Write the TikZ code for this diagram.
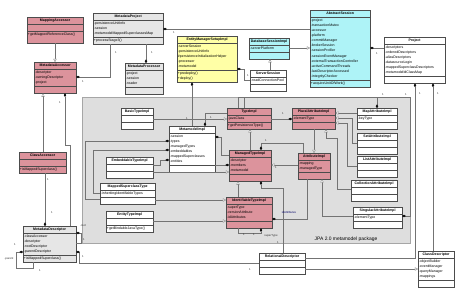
\documentclass[tikz,border=0pt]{standalone}
\usepackage{fontspec}
\setmainfont{Liberation Sans}
\usepackage{tikz}
\usetikzlibrary{shapes.multipart, arrows.meta, calc}
\usepackage{xcolor}
\definecolor{clspink}{HTML}{DC939C}
\definecolor{clscyan}{HTML}{AEF3F7}
\definecolor{clsyellow}{HTML}{FFFFA6}
\definecolor{clsgray}{HTML}{E6E6E6}
\definecolor{pkgfill}{HTML}{DEDEDE}

\newcommand{\clfont}{\fontsize{5}{7.2}\selectfont}
\newcommand{\hdr}[1]{\centering\strut\textbf{#1}\par}
\newcommand{\mbr}[1]{\strut#1\par}

\tikzset{
  umlclass/.style={rectangle split, rectangle split parts=3, draw=black!70, line width=0.35pt,
    anchor=north west, inner xsep=1.2pt, inner ysep=1.2pt, font=\clfont},
  pinkcls/.style={umlclass, fill=clspink},
  cyancls/.style={umlclass, fill=clscyan},
  yellowcls/.style={umlclass, fill=clsyellow},
  graycls/.style={umlclass, fill=clsgray},
  whitecls/.style={umlclass, fill=white},
  pkgbox/.style={draw=black!35, fill=pkgfill, anchor=north west, inner sep=0pt},
  link/.style={draw=black!55, line width=0.4pt},
  comp/.style={link, {Diamond[color=black,length=5pt,width=3.4pt]}-},
  compend/.style={link, -{Diamond[color=black,length=5pt,width=3.4pt]}},
  gen/.style={link, -{Triangle[open,fill=white,length=4.5pt,width=4.5pt]}},
  lbl/.style={font=\fontsize{4}{4}\selectfont, inner sep=0.4pt, text=black!80}
}

\begin{document}
\begin{tikzpicture}[x=0.05cm, y=-0.05cm]
  \useasboundingbox (0,0) rectangle (474,288);
  \fill[white] (0,0) rectangle (474,288);

  % package area
  \node[pkgbox, minimum width=16.4cm, minimum height=7.3cm] (pkg) at (82,97) {};
  \node[font=\fontsize{7}{8}\selectfont] (pkglabel) at (346,239) {JPA 2.0 metamodel package};

  % mapping side
  \node[pinkcls, text width=2.715cm] (mapacc) at (27,17) {\hdr{MappingAccessor}\nodepart{two}\strut\nodepart{three}\mbr{+getMappedReferenceClass()}\mbr{}};
  \node[graycls, text width=3.415cm] (mdproject) at (93,13) {\hdr{MetadataProject}\nodepart{two}\mbr{-persistenceUnitInfo}\mbr{-session}\mbr{-metamodelMappedSuperclassesMap}\nodepart{three}\mbr{+processStage3()}};
  \node[pinkcls, text width=2.015cm] (mdaccessor) at (34,62) {\hdr{MetadataAccessor}\nodepart{two}\mbr{-descriptor}\mbr{-owningDescriptor}\mbr{-project}\nodepart{three}\strut};
  \node[graycls, text width=1.815cm] (mdprocessor) at (125,63) {\hdr{MetadataProcessor}\nodepart{two}\mbr{-project}\mbr{-session}\mbr{-reader}\nodepart{three}\strut};
  \node[pinkcls, text width=2.265cm] (classacc) at (19,152) {\hdr{ClassAccessor}\nodepart{two}\strut\nodepart{three}\mbr{+isMappedSuperclass()}};
  \node[graycls, text width=2.565cm] (mdescriptor) at (23,226) {\hdr{MetadataDescriptor}\nodepart{two}\mbr{-classAccessor}\mbr{-descriptor}\mbr{-rootDescriptor}\mbr{-parentDescriptor}\nodepart{three}\mbr{+isMappedSuperclass()}};

  % sessions
  \node[yellowcls, text width=2.915cm] (emsi) at (177,36) {\hdr{EntityManagerSetupImpl}\nodepart{two}\mbr{-serverSession}\mbr{-persistenceUnitInfo}\mbr{\#persistenceInitializationHelper}\mbr{-processor}\mbr{-metamodel}\nodepart{three}\mbr{+predeploy()}\mbr{+deploy()}};
  \node[cyancls, text width=1.915cm] (dbsession) at (249,38) {\hdr{DatabaseSessionImpl}\nodepart{two}\mbr{-serverPlatform}\nodepart{three}\strut};
  \node[whitecls, text width=1.715cm] (server) at (250,70) {\hdr{ServerSession}\nodepart{two}\mbr{-readConnectionPool}\nodepart{three}\strut};
  \node[cyancls, text width=2.915cm] (abssession) at (310,10) {\hdr{AbstractSession}\nodepart{two}\mbr{-project}\mbr{-transactionMutex}\mbr{-accessor}\mbr{-platform}\mbr{-commitManager}\mbr{-brokerSession}\mbr{-sessionProfiler}\mbr{-sessionEventManager}\mbr{-externalTransactionController}\mbr{-activeCommandThreads}\mbr{-lastDescriptorAccessed}\mbr{-integrityChecker}\nodepart{three}\mbr{+acquireUnitOfWork()}};
  \node[whitecls, text width=2.965cm] (project) at (384,37) {\hdr{Project}\nodepart{two}\mbr{-descriptors}\mbr{-orderedDescriptors}\mbr{-aliasDescriptors}\mbr{-datasourceLogin}\mbr{-mappedSuperclassDescriptors}\mbr{-metamodelIdClassMap}\nodepart{three}\strut};

  % metamodel package
  \node[whitecls, text width=1.515cm] (basictype) at (121,108) {\hdr{BasicTypeImpl}\nodepart{two}\strut\nodepart{three}\strut};
  \node[whitecls, text width=2.215cm] (metamodel) at (169,126) {\hdr{MetamodelImpl}\nodepart{two}\mbr{-session}\mbr{-types}\mbr{-managedTypes}\mbr{-embeddables}\mbr{-mappedSuperclasses}\mbr{-entities}\nodepart{three}\strut};
  \node[whitecls, text width=2.265cm] (embeddable) at (106,157) {\hdr{EmbeddableTypeImpl}\nodepart{two}\strut\nodepart{three}\strut};
  \node[whitecls, text width=2.665cm] (mappedsc) at (100,183) {\hdr{MappedSuperclassType}\nodepart{two}\mbr{-inheritingIdentifiableTypes}\nodepart{three}\strut};
  \node[whitecls, text width=2.265cm] (entitytype) at (106,211) {\hdr{EntityTypeImpl}\nodepart{two}\strut\nodepart{three}\mbr{+getBindableJavaType()}};
  \node[pinkcls, text width=2.115cm] (typeimpl) at (227,108) {\hdr{TypeImpl}\nodepart{two}\mbr{-javaClass}\nodepart{three}\mbr{+getPersistenceType()}};
  \node[pinkcls, text width=2.065cm] (pluralattr) at (292,108) {\hdr{PluralAttributeImpl}\nodepart{two}\mbr{-elementType}\nodepart{three}\strut};
  \node[pinkcls, text width=2.015cm] (managedtype) at (229,150) {\hdr{ManagedTypeImpl}\nodepart{two}\mbr{-descriptor}\mbr{-members}\mbr{-metamodel}\nodepart{three}\strut};
  \node[pinkcls, text width=1.515cm] (attrimpl) at (298,153) {\hdr{AttributeImpl}\nodepart{two}\mbr{-mapping}\mbr{-managedType}\nodepart{three}\strut};
  \node[pinkcls, text width=2.215cm] (identtype) at (226,197) {\hdr{IdentifiableTypeImpl}\nodepart{two}\mbr{-superType}\mbr{-versionAttribute}\mbr{-idAttributes}\nodepart{three}\strut};
  \node[whitecls, text width=1.915cm] (mapattr) at (357,108) {\hdr{MapAttributeImpl}\nodepart{two}\mbr{-keyType}\nodepart{three}\strut};
  \node[whitecls, text width=1.915cm] (setattr) at (357,133) {\hdr{SetAttributeImpl}\nodepart{two}\strut\nodepart{three}\strut};
  \node[whitecls, text width=1.915cm] (listattr) at (357,156) {\hdr{ListAttributeImpl}\nodepart{two}\strut\nodepart{three}\strut};
  \node[whitecls, text width=2.215cm] (collattr) at (351,180) {\hdr{CollectionAttributeImpl}\nodepart{two}\strut\nodepart{three}\strut};
  \node[whitecls, text width=2.365cm] (singattr) at (353,207) {\hdr{SingularAttributeImpl}\nodepart{two}\mbr{-elementType}\nodepart{three}\strut};

  % descriptors
  \node[whitecls, text width=2.215cm] (reldesc) at (259,253) {\hdr{RelationalDescriptor}\nodepart{two}\strut\nodepart{three}\strut};
  \node[whitecls, text width=1.715cm] (classdesc) at (418,251) {\hdr{ClassDescriptor}\nodepart{two}\mbr{-objectBuilder}\mbr{-eventManager}\mbr{-queryManager}\mbr{-mappings}\nodepart{three}\strut};

  % connectors outside the package
  \draw[gen] (mapacc.south -| 55,0) -- (mdaccessor.north -| 55,0);
  \draw[compend] (mdproject.south -| 110,0) |- (mdaccessor.east |- 0,77);
  \draw[compend] (mdproject.south -| 146,0) -- (mdprocessor.north -| 146,0);
  \draw[comp] (mdproject.east |- 0,29) -- (abssession.west |- 0,29);
  \draw[gen] (dbsession.east |- 0,48) -- (abssession.west |- 0,48);
  \draw[gen] (server.north -| 270,0) -- (dbsession.south -| 270,0);
  \draw[comp] (emsi.east |- 0,69) -| (244,80) -- (server.west |- 0,80);
  \draw[comp] (abssession.east |- 0,48) -- (project.west |- 0,48);
  \draw[comp] (project.south -| 433,0) -- (classdesc.north -| 433,0);
  \draw[comp] (project.south -| 415,0) |- (reldesc.east |- 0,258);
  \draw[gen] (reldesc.east |- 0,269) -- (classdesc.west |- 0,269);
  \draw[gen] (classacc.north -| 43,0) -- (mdaccessor.south -| 43,0);
  \draw[compend] (classacc.south -| 45,0) -- (mdescriptor.north -| 45,0);
  \draw[comp] (mdaccessor.south -| 65,0) |- (70,145) -- (mdescriptor.north -| 70,0);
  \draw[comp] (mdescriptor.east |- 0,233) -- (81,233) |- (mdescriptor.east |- 0,243);
  \draw[comp] (mdescriptor.east |- 0,252) -- (79,252) |- (reldesc.west |- 0,263);
  \draw[comp] (mdescriptor.west |- 0,252) -- (16,252) |- (33,268) -- (mdescriptor.south -| 33,0);

  % connectors in the package
  \draw[comp] (emsi.south -| 192,0) -- (metamodel.north -| 192,0);
  \draw[comp] (metamodel.north -| 205,0) |- (typeimpl.west |- 0,113);
  \draw[gen] (basictype.east |- 0,119) -- (typeimpl.west |- 0,119);
  \draw[compend] (typeimpl.east |- 0,119) -- (pluralattr.west |- 0,119);
  \draw[comp] (mapattr.north -| 377,0) |- (238,97) -- (typeimpl.north -| 238,0);
  \draw[comp] (singattr.east |- 0,216) -| (410,97) -| (typeimpl.north -| 244,0);
  \draw[gen] (managedtype.north -| 250,0) -- (typeimpl.south -| 250,0);
  \draw[gen] (identtype.north -| 238,0) -- (managedtype.south -| 238,0);
  \draw[gen] (mappedsc.east |- 0,200) -- (identtype.west |- 0,200);
  \draw[gen] (entitytype.east |- 0,221) -- (identtype.west |- 0,221);
  \draw[gen] (embeddable.east |- 0,172) -- (managedtype.west |- 0,172);
  \draw[comp] (metamodel.east |- 0,137) -| (221,155) -- (managedtype.west |- 0,155);
  \draw[comp] (managedtype.west |- 0,165) -- (metamodel.east |- 0,165);
  \draw[comp] (metamodel.west |- 0,141) -| (85,199) -- (mappedsc.west |- 0,199);
  \draw[comp] (metamodel.west |- 0,150) -| (93,193) -- (mappedsc.west |- 0,193);
  \draw[comp] (metamodel.west |- 0,160) -| (160,165) -- (embeddable.east |- 0,165);
  \draw[comp] (managedtype.north -| 261,0) |- (303,143) -- (attrimpl.north -| 303,0);
  \draw[gen] (attrimpl.west |- 0,165) -- (managedtype.east |- 0,165);
  \draw[gen] (pluralattr.south -| 314,0) -- (attrimpl.north -| 314,0);
  \draw[gen] (mapattr.west |- 0,113) -- (pluralattr.east |- 0,113);
  \draw[gen] (setattr.west |- 0,143) -| (352,118) -- (pluralattr.east |- 0,118);
  \draw[gen] (listattr.west |- 0,166) -| (347,123) -- (pluralattr.east |- 0,123);
  \draw[gen] (collattr.west |- 0,189) -| (337,138) -| (pluralattr.south -| 326,0);
  \draw[gen] (singattr.west |- 0,216) -| (attrimpl.south -| 322,0);
  \draw[comp] (identtype.east |- 0,219) -| (attrimpl.south -| 307,0);
  \draw[comp] (managedtype.south -| 261,0) |- (283,188) -- (reldesc.north -| 283,0);
  \draw[comp] (identtype.south -| 261,0) |- (238,233) -- (identtype.south -| 238,0);

  % multiplicities and role names
  \node[lbl] (m1) at (116,53) {1};
  \node[lbl] (m2) at (83,82) {1};
  \node[lbl] (m3) at (152,53) {1};
  \node[lbl] (m4) at (174,33) {1};
  \node[lbl] (m5) at (248,76) {1};
  \node[lbl] (m6) at (377,54) {1};
  \node[lbl] (m7) at (420,94) {1};
  \node[lbl] (m8) at (438,94) {1};
  \node[lbl] (m9) at (60,103) {1};
  \node[lbl] (m10) at (48,180) {1};
  \node[lbl] (m11) at (52,213) {1};
  \node[lbl] (m12) at (84,240) {1};
  \node[lbl] (m13) at (83,257) {1};
  \node[lbl] (m14) at (250,270) {1};
  \node[lbl] (m15) at (15,245) {1};
  \node[lbl] (m16) at (40,271) {1};
  \node[lbl] (m17) at (187,119) {1};
  \node[lbl] (m18) at (211,118) {1};
  \node[lbl] (m19) at (383,95) {1};
  \node[lbl] (m20) at (406,95) {1};
  \node[lbl] (m21) at (283,114) {1};
  \node[lbl] (m22) at (244,235) {1};
  \node[lbl] (m23) at (254,235) {1};
  \node[lbl] (m24) at (278,243) {1};
  \node[lbl] (m25) at (266,141) {1};
  \node[lbl] (m26) at (276,168) {1};
  \node[lbl] (rootrole) at (83,226) {-root};
  \node[lbl] (parentrole) at (9,259) {-parent};
  \node[lbl] (supertyperole) at (271,236) {superType};
  \node[lbl, text=blue!40!black] (idattrrole) at (289,212) {idAttributes};
\end{tikzpicture}
\end{document}
